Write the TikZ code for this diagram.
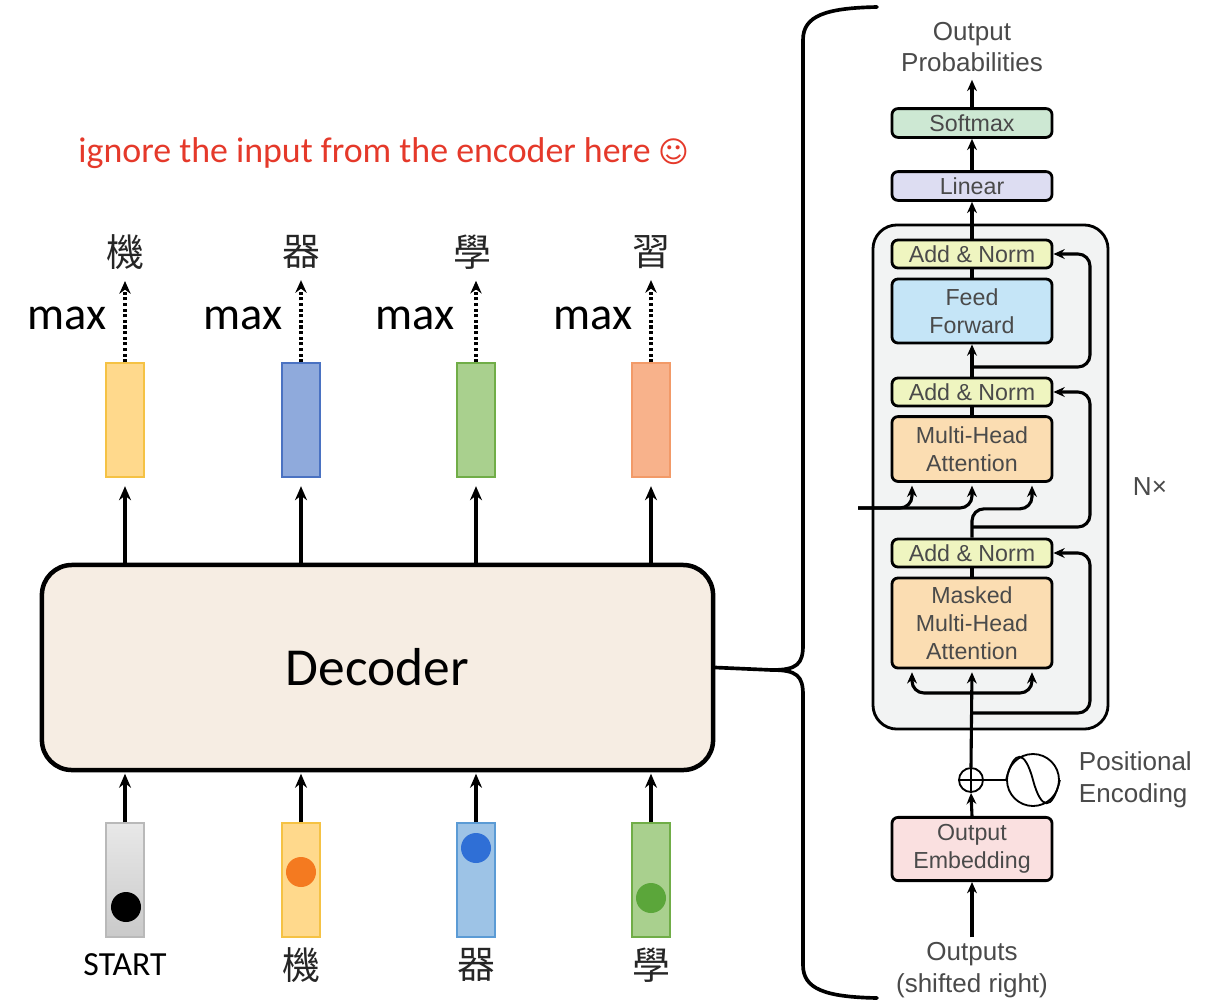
\documentclass[tikz,border=0pt]{standalone}
\usepackage{fontspec}
\setmainfont{Carlito}
\newfontfamily\cjk{Noto Sans CJK TC}
\newfontfamily\helv{Liberation Sans}
\newfontfamily\symb{DejaVu Sans}
\usepackage{tikz}
\usetikzlibrary{calc, positioning, arrows.meta}
\definecolor{redtxt}{HTML}{E5392A}
\definecolor{decfill}{HTML}{F6EDE3}
\definecolor{barY}{HTML}{FFD98C}
\definecolor{barYd}{HTML}{F5C244}
\definecolor{barB}{HTML}{8FAADC}
\definecolor{barBd}{HTML}{4A72C2}
\definecolor{barG}{HTML}{A9D08E}
\definecolor{barGd}{HTML}{70AD47}
\definecolor{barO}{HTML}{F8B28B}
\definecolor{barOd}{HTML}{F29A68}
\definecolor{barL}{HTML}{9DC3E6}
\definecolor{barLd}{HTML}{5B9BD5}
\definecolor{dotO}{HTML}{F47A20}
\definecolor{dotB}{HTML}{2F6FD6}
\definecolor{dotG}{HTML}{5BA63A}
\definecolor{tgray}{HTML}{4A4A4A}
\definecolor{smfill}{HTML}{CDE8D3}
\definecolor{linfill}{HTML}{DDDDF2}
\definecolor{anfill}{HTML}{EFF5C0}
\definecolor{fffill}{HTML}{C5E5F7}
\definecolor{mhafill}{HTML}{FBDDB2}
\definecolor{embfill}{HTML}{FAE0E0}
\definecolor{blkfill}{HTML}{F2F3F3}
\tikzstyle{arrow}    = [line width=2.8pt,->,>={Stealth[length=10pt,width=8.5pt]}]
\tikzstyle{dotarrow} = [line width=2.8pt,->,>={Stealth[length=9pt,width=8pt]},dash pattern=on 2.2pt off 1.8pt]
\tikzstyle{brace}    = [line width=2.6pt,line cap=round]

\begin{document}
\begin{tikzpicture}[
    x=0.025cm, y=-0.025cm,
    bar/.style={draw, line width=1pt, minimum width=0.95cm, minimum height=2.85cm, inner sep=0pt},
    tokdot/.style={circle, minimum size=0.75cm, inner sep=0pt},
    maxlbl/.style={anchor=east, inner sep=0pt, font=\fontsize{33}{36}\selectfont},
    cjkch/.style={inner sep=1pt, text=black!85, font=\cjk\fontsize{27}{30}\selectfont},
    tbox/.style={draw, line width=2pt, rounded corners=0.15cm, minimum width=4cm, inner sep=0pt,
      align=center, text=tgray, font=\helv\fontsize{16.5}{19.5}\selectfont},
    ttext/.style={align=center, text=tgray, font=\helv\fontsize{18.5}{22.5}\selectfont},
    tline/.style={line width=2.2pt},
    tarrow/.style={line width=2.2pt, ->, >={Stealth[length=8pt,width=7pt]}, rounded corners=0.3cm},
  ]
  \path[use as bounding box, fill=white] (0,0) rectangle (1225,1002);

  % left side: decoder with its outputs and inputs
  \node[font=\fontsize{25.5}{28}\selectfont, text=redtxt] (note) at (384,153)
    {ignore the input from the encoder here {\symb\fontsize{21}{24}\selectfont ☺}};

  \node[draw, line width=3.2pt, rounded corners=0.75cm, fill=decfill, minimum width=16.775cm,
    minimum height=5.125cm, font=\fontsize{38}{40}\selectfont] (dec) at (377.5,667.5) {Decoder};

  \node[bar, fill=barY, draw=barYd] (o1) at (125,420) {};
  \node[bar, fill=barB, draw=barBd] (o2) at (301,420) {};
  \node[bar, fill=barG, draw=barGd] (o3) at (476,420) {};
  \node[bar, fill=barO, draw=barOd] (o4) at (651,420) {};

  \node[cjkch] (c1) at (125,252) {機};
  \node[cjkch] (c2) at (301,252) {器};
  \node[cjkch] (c3) at (472,252) {學};
  \node[cjkch] (c4) at (651,252) {習};

  \node[maxlbl] (m1) at (107,318) {max};
  \node[maxlbl] (m2) at (283,318) {max};
  \node[maxlbl] (m3) at (455,318) {max};
  \node[maxlbl] (m4) at (633,318) {max};

  \draw[dotarrow, shorten >=7pt] (o1.north) -- (c1.south);
  \draw[dotarrow, shorten >=7pt] (o2.north) -- (c2.south);
  \draw[dotarrow, shorten >=7pt] (o3.north) -- (c3.south -| o3);
  \draw[dotarrow, shorten >=7pt] (o4.north) -- (c4.south);

  \draw[arrow, shorten >=6pt] (dec.north -| o1) -- (o1.south);
  \draw[arrow, shorten >=6pt] (dec.north -| o2) -- (o2.south);
  \draw[arrow, shorten >=6pt] (dec.north -| o3) -- (o3.south);
  \draw[arrow, shorten >=6pt] (dec.north -| o4) -- (o4.south);

  \node[bar, top color=gray!18, bottom color=gray!42, draw=gray!55] (i1) at (125,880) {};
  \node[bar, fill=barY, draw=barYd] (i2) at (301,880) {};
  \node[bar, fill=barL, draw=barLd] (i3) at (476,880) {};
  \node[bar, fill=barG, draw=barGd] (i4) at (651,880) {};

  \node[tokdot, fill=black] (d1) at (126,907) {};
  \node[tokdot, fill=dotO] (d2) at (301,872) {};
  \node[tokdot, fill=dotB] (d3) at (476,848) {};
  \node[tokdot, fill=dotG] (d4) at (651,898) {};

  \node[font=\fontsize{24}{26}\selectfont] (l1) at (125,965) {START};
  \node[cjkch] (l2) at (301,965) {機};
  \node[cjkch] (l3) at (476,965) {器};
  \node[cjkch] (l4) at (651,965) {學};

  \draw[arrow, shorten >=1pt] (i1.north) -- (i1 |- dec.south);
  \draw[arrow, shorten >=1pt] (i2.north) -- (i2 |- dec.south);
  \draw[arrow, shorten >=1pt] (i3.north) -- (i3 |- dec.south);
  \draw[arrow, shorten >=1pt] (i4.north) -- (i4 |- dec.south);

  % brace
  \coordinate (btip) at (772,670);
  \coordinate (btop) at (877,7);
  \coordinate (bbot) at (877,998);
  \draw[brace] (dec.east) -- (btip);
  \draw[brace] (btip) .. controls (797,670) and (803,664) .. (803,645) -- (803,40)
    .. controls (803,16) and (825,8) .. (btop);
  \draw[brace] (btip) .. controls (797,670) and (803,676) .. (803,695) -- (803,965)
    .. controls (803,989) and (825,997) .. (bbot);

  % right side: transformer decoder
  \node[draw, line width=2pt, fill=blkfill, rounded corners=0.6cm, minimum width=5.875cm,
    minimum height=12.6cm] (blk) at (990.5,477) {};

  \node[ttext] (outprob) at (972,47) {Output\\Probabilities};
  \node[tbox, fill=smfill, minimum height=0.72cm] (sm) at (972,123) {Softmax};
  \node[tbox, fill=linfill, minimum height=0.72cm] (lin) at (972,186) {Linear};
  \node[tbox, fill=anfill, minimum height=0.7cm] (an3) at (972,254) {Add \& Norm};
  \node[tbox, fill=fffill, minimum height=1.6cm, font=\helv\fontsize{16.5}{20}\selectfont] (ff) at (972,311) {Feed\\Forward};
  \node[tbox, fill=anfill, minimum height=0.7cm] (an2) at (972,392) {Add \& Norm};
  \node[tbox, fill=mhafill, minimum height=1.62cm, font=\helv\fontsize{16.5}{20}\selectfont] (mha) at (972,449) {Multi-Head\\Attention};
  \node[tbox, fill=anfill, minimum height=0.7cm] (an1) at (972,553) {Add \& Norm};
  \node[tbox, fill=mhafill, minimum height=2.25cm, font=\helv\fontsize{16.5}{20}\selectfont] (mmha) at (972,623) {Masked\\Multi-Head\\Attention};
  \node[ttext, anchor=west] (nx) at (1128,487) {N×};

  \node[circle, draw, line width=1.3pt, minimum size=0.6cm, inner sep=0pt,
    path picture={\draw[line width=1.3pt] (path picture bounding box.north) -- (path picture bounding box.south)
      (path picture bounding box.west) -- (path picture bounding box.east);}] (plus) at (971,780) {};
  \node[circle, draw, line width=1.3pt, minimum size=1.3cm, inner sep=0pt] (pe) at (1033,780) {};
  \draw[line width=1.3pt] (pe.west) .. controls +(8,-32) and +(-8,-30) .. (pe.center)
    .. controls +(8,30) and +(-8,32) .. (pe.east);
  \node[ttext, anchor=west, align=left] (petext) at (1074,780) {Positional\\Encoding};

  \node[tbox, fill=embfill, minimum height=1.58cm, font=\helv\fontsize{16.5}{20}\selectfont] (emb) at (972,849) {Output\\Embedding};
  \node[ttext] (outs) at (972,970) {Outputs\\(shifted right)};

  % connectors
  \draw[tarrow, shorten >=2pt] (sm.north) -- (outprob.south);
  \draw[tarrow] (lin.north) -- (sm.south);
  \draw[tarrow] (an3.north) -- (lin.south);
  \draw[tline] (ff.north) -- (an3.south);
  \draw[tarrow] (an2.north) -- (ff.south);
  \draw[tline] (mha.north) -- (an2.south);
  \draw[tline] (mmha.north) -- (an1.south);

  \coordinate (s3) at (972,367);
  \coordinate (s2) at (972,527);
  \coordinate (s1) at (972,713);
  \coordinate (b1) at (972,693);
  \coordinate (enc) at (858,508);
  \coordinate (q1) at ($(mha.south)+(-60,0)$);
  \coordinate (q2) at (mha.south);
  \coordinate (q3) at ($(mha.south)+(60,0)$);
  \coordinate (k1) at ($(mmha.south)+(-60,0)$);
  \coordinate (k3) at ($(mmha.south)+(60,0)$);

  \draw[tarrow] (s3) -| (1090,310) |- (an3.east);
  \draw[tarrow] (s2) -| (1090,460) |- (an2.east);
  \draw[tarrow] (s1) -| (1090,620) |- (an1.east);

  \draw[tarrow, shorten >=2pt] (an1.north) |- ($(q3)+(0,26)$) -- (q3);
  \draw[tarrow, shorten >=2pt] (enc) -| (q1);
  \draw[tarrow, shorten >=2pt] (enc) -| (q2);

  \draw[tarrow, shorten >=2pt] (plus.north) -- (mmha.south);
  \draw[tarrow, shorten >=2pt] (b1) -| (k1);
  \draw[tarrow, shorten >=2pt] (b1) -| (k3);

  \draw[tarrow] (emb.north) -- (plus.south);
  \draw[line width=1.3pt] (plus.east) -- (pe.west);
  \draw[tarrow] (outs.north) -- (emb.south);
\end{tikzpicture}
\end{document}
